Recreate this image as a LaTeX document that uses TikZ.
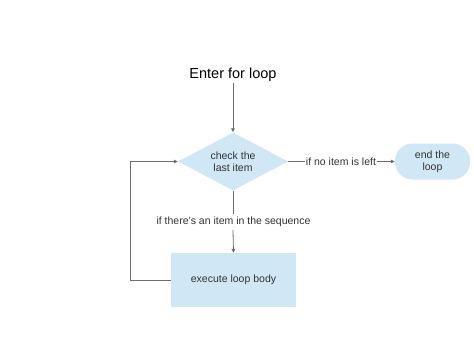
\documentclass[tikz,border=0pt]{standalone}
\usepackage{fontspec}
\setmainfont{Liberation Sans}
\usepackage{xcolor}
\usetikzlibrary{arrows.meta,shapes.geometric}
\definecolor{LoopFill}{HTML}{D0E8F5}
\definecolor{LoopLine}{HTML}{6E6E6E}
\definecolor{LoopText}{HTML}{333333}
\tikzset{
  forloop shape/.style={
    fill=LoopFill,
    font=\fontsize{10.5}{12}\selectfont,
    text=LoopText,
    align=center,
    inner sep=0pt
  },
  forloop label/.style={
    font=\fontsize{10.5}{12}\selectfont,
    text=LoopText,
    inner sep=1pt
  },
  forloop line/.style={LoopLine, line width=0.8pt},
  forloop arr/.style={forloop line, -{Triangle[length=4pt, width=3.6pt]}}
}
\begin{document}
\begin{tikzpicture}[x=1pt, y=-1pt]
  \useasboundingbox (0,0) rectangle (474,354);

  \node[font=\fontsize{14.5}{16}\selectfont, text=black, inner sep=1pt] (enter)
    at (233,75) {Enter for loop};
  \node[forloop shape, diamond, aspect=1.9, minimum width=110pt, minimum height=58pt] (check)
    at (233,161.5) {check the\\last item};
  \node[forloop shape, rounded corners=17.5pt, minimum width=75pt,
    minimum height=36pt] (end) at (432.5,161.5) {end the\\loop};
  \node[forloop shape, minimum width=125pt, minimum height=54pt] (body)
    at (233.5,280) {execute loop body};

  \node[forloop label] (nolabel) at (341,161.5) {if no item is left};
  \node[forloop label, inner sep=3pt] (seqlabel) at (233.5,222) {if there's an item in the sequence};

  \draw[forloop arr] (enter.south) -- (check.north);
  \draw[forloop line] (check.east) -- (nolabel.west);
  \draw[forloop arr] (nolabel.east) -- (end.west);
  \draw[forloop line] (check.south) -- (check.south |- seqlabel.north);
  \draw[forloop arr] (check.south |- seqlabel.south) -- (body.north);
  \draw[forloop arr] (body.west) -- ++(-40,0) |- (check.west);
\end{tikzpicture}
\end{document}
